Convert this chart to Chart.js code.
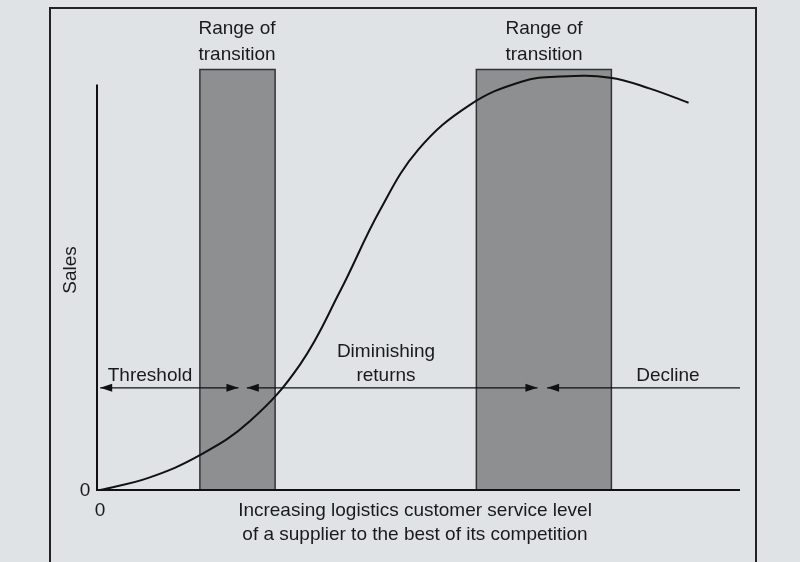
<!DOCTYPE html>
<html><head><meta charset="utf-8">
<script src="https://cdn.jsdelivr.net/npm/chart.js@4"></script>
<style>html,body{margin:0;background:#dfe3e6}#wrap{width:800px;height:562px}</style>
</head><body><div id="wrap"><canvas id="c" width="800" height="562"></canvas></div>
<script>
// sales response curve, x = service level (0-100), y = sales (0-100)
const curveX = [0.5, 8, 16, 23.8, 31.6, 37.8, 44, 50, 58, 66, 72, 79.8, 86, 92];
const curveY = [0, 3, 8.6, 17, 31, 49, 69, 84, 95, 100.7, 102, 101.7, 99, 95.5];
// two "range of transition" bands
const bandStart = [16, 59];
const bandEnd = [27.7, 80];
const bandTop = 103.7;
const arrowY = 25.2;
// [from, to, head at from, head at to]
const arrows = [[0.5, 22, true, true], [23.3, 68.5, true, true], [70, 100, true, false]];

const ctx = document.getElementById('c').getContext('2d');
const bands = bandStart.map((s, i) => ({
    type: 'line', order: 2,
    data: [{x: s, y: 0}, {x: s, y: bandTop}, {x: bandEnd[i], y: bandTop}, {x: bandEnd[i], y: 0}],
    borderColor: '#333', borderWidth: 1.5, backgroundColor: '#8d8f90',
    fill: 'origin', pointRadius: 0, tension: 0
}));

function head(c, px, py, dir) {
    c.beginPath(); c.moveTo(px, py); c.lineTo(px - dir * 12, py - 4); c.lineTo(px - dir * 12, py + 4); c.closePath(); c.fill();
}

const extras = {
    id: 'extras',
    afterDatasetsDraw(chart) {
        const c = chart.ctx, x = chart.scales.x, y = chart.scales.y;
        c.save();
        c.strokeStyle = '#111'; c.lineWidth = 2;
        c.beginPath();
        c.moveTo(x.getPixelForValue(0), y.getPixelForValue(100));
        c.lineTo(x.getPixelForValue(0), y.getPixelForValue(0));
        c.lineTo(x.getPixelForValue(100), y.getPixelForValue(0));
        c.stroke();
        c.lineWidth = 1.3; c.fillStyle = '#111';
        const py = y.getPixelForValue(arrowY);
        arrows.forEach(([a, b, ha, hb]) => {
            const pa = x.getPixelForValue(a), pb = x.getPixelForValue(b);
            c.beginPath(); c.moveTo(pa, py); c.lineTo(pb, py); c.stroke();
            if (ha) head(c, pa, py, -1);
            if (hb) head(c, pb, py, 1);
        });
        c.font = '19px "Liberation Sans", Arial, sans-serif';
        c.fillStyle = '#1a1a1a'; c.textAlign = 'center'; c.textBaseline = 'alphabetic';
        c.fillText('Threshold', 150, 381);
        c.fillText('Diminishing', 386, 357);
        c.fillText('returns', 386, 381);
        c.fillText('Decline', 668, 381);
        c.fillText('Range of', 237, 34); c.fillText('transition', 237, 60);
        c.fillText('Range of', 544, 34); c.fillText('transition', 544, 60);
        c.fillText('Increasing logistics customer service level', 415, 516);
        c.fillText('of a supplier to the best of its competition', 415, 540);
        c.fillText('0', 85, 496); c.fillText('0', 100, 516);
        c.translate(76, 270); c.rotate(-Math.PI / 2); c.fillText('Sales', 0, 0);
        c.restore();
        c.save(); c.strokeStyle = '#222'; c.lineWidth = 2;
        c.strokeRect(50, 8, 706, 556); c.restore();
    }
};

new Chart(ctx, {
    type: 'line',
    data: {
        datasets: [...bands, {
            order: 1,
            data: curveX.map((v, i) => ({x: v, y: curveY[i]})),
            borderColor: '#111', borderWidth: 2, pointRadius: 0, tension: 0.4, fill: false
        }]
    },
    options: {
        responsive: false, animation: false,
        layout: {padding: {left: 97, right: 60, top: 44, bottom: 72}},
        plugins: {legend: {display: false}, tooltip: {enabled: false}},
        scales: {
            x: {type: 'linear', min: 0, max: 100, display: false},
            y: {min: 0, max: 110, display: false}
        }
    },
    plugins: [extras]
});
</script></body></html>
